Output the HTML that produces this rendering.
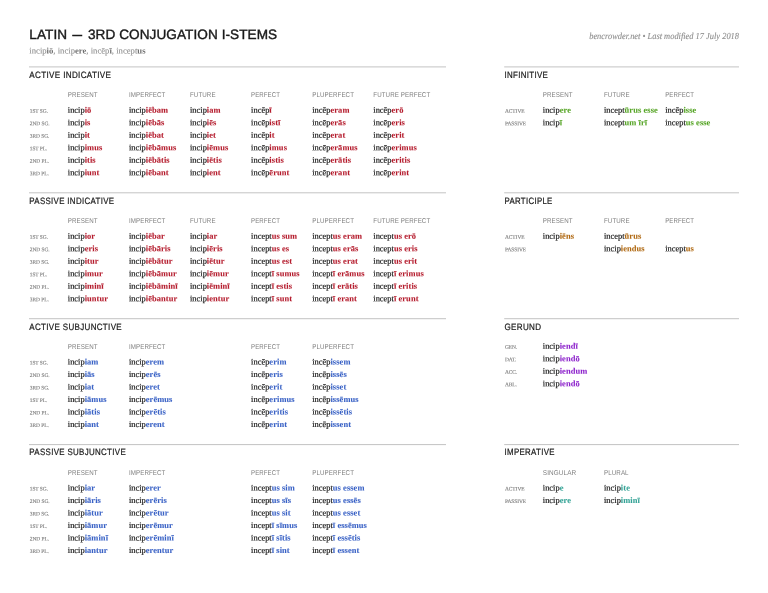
<!DOCTYPE html>
<html lang="la">
<head>
<meta charset="utf-8">
<title>Latin — 3rd Conjugation I-Stems</title>
<style>
html,body{margin:0;padding:0;background:#fff}
body{width:768px;height:593px;overflow:hidden}
svg{display:block;position:absolute;left:0;top:0}
text{text-rendering:geometricPrecision;white-space:pre}
.rule{fill:#c3c3c3}
.h1{font-family:"Liberation Sans",sans-serif;font-size:13.6px;letter-spacing:0.06px;text-transform:uppercase;fill:#1a1a1a;stroke:#1a1a1a;stroke-width:0.4px}
.dash{stroke-width:0.65px;letter-spacing:0}
.h2{font-family:"Liberation Sans",sans-serif;font-size:9.2px;letter-spacing:0.38px;text-transform:uppercase;fill:#1a1a1a;stroke:#1a1a1a;stroke-width:0.22px}
.ch{font-family:"Liberation Sans",sans-serif;font-size:7.0px;letter-spacing:0.1px;text-transform:uppercase;fill:#808080}
.lab{font-family:"Liberation Serif",serif;font-size:5.4px;letter-spacing:-0.02px;text-transform:uppercase;fill:#828282;stroke:#828282;stroke-width:0.15px}
.w{font-family:"Liberation Serif",serif;font-size:8.43px;fill:#141414;stroke:#141414;stroke-width:0.18px}
.e{font-weight:bold;letter-spacing:0.08px;stroke-width:0.09px}
.sub{font-family:"Liberation Serif",serif;font-size:8.66px;fill:#939393;stroke:#939393;stroke-width:0.12px}
.sub tspan{font-weight:bold;fill:#6e6e6e;stroke:none}
.meta{font-family:"Liberation Serif",serif;font-size:9.2px;font-style:italic;fill:#8c8c8c;stroke:#8c8c8c;stroke-width:0.1px}
.red{fill:#b51d2e;stroke:#b51d2e}
.blue{fill:#3b63c6;stroke:#3b63c6}
.green{fill:#57a527;stroke:#57a527}
.orange{fill:#b06a14;stroke:#b06a14}
.purple{fill:#8e25cc;stroke:#8e25cc}
.teal{fill:#35a396;stroke:#35a396}
</style>
</head>
<body>
<svg width="768" height="593" viewBox="0 0 768 593">
  <g id="header">
    <text class="h1" transform="translate(29.30 38.90) rotate(0.03)">Latin</text>
    <text class="h1 dash" transform="translate(77.20 38.90) rotate(0.03) scale(0.7 1.0)" text-anchor="middle">—</text>
    <text class="h1" transform="translate(88.00 38.90) rotate(0.03)">3rd Conjugation I-Stems</text>
    <text class="sub" transform="translate(29.30 53.50) rotate(0.03)">incip<tspan>iō</tspan>, incip<tspan>ere</tspan>, incēp<tspan>ī</tspan>, incept<tspan>us</tspan></text>
    <text class="meta" transform="translate(739.00 39.00) rotate(0.03) scale(0.914 1.0)" text-anchor="end">bencrowder.net • Last modified 17 July 2018</text>
  </g>
  <g class="section" id="active-indicative">
    <rect class="rule" x="29.00" y="66.40" width="417.00" height="1"/>
    <text class="h2" transform="translate(29.30 77.75) rotate(0.03) scale(0.881 1.0)">Active Indicative</text>
    <g class="colheads">
      <text class="ch" transform="translate(67.80 97.20) rotate(0.03) scale(0.885 1.0)">Present</text>
      <text class="ch" transform="translate(128.90 97.20) rotate(0.03) scale(0.885 1.0)">Imperfect</text>
      <text class="ch" transform="translate(190.00 97.20) rotate(0.03) scale(0.885 1.0)">Future</text>
      <text class="ch" transform="translate(251.10 97.20) rotate(0.03) scale(0.865 1.0)">Perfect</text>
      <text class="ch" transform="translate(312.20 97.20) rotate(0.03) scale(0.885 1.0)">Pluperfect</text>
      <text class="ch" transform="translate(373.30 97.20) rotate(0.03) scale(0.885 1.0)">Future Perfect</text>
    </g>
    <g class="row">
      <text class="lab" transform="translate(29.70 112.80) rotate(0.03)">1st sg.</text>
      <text class="w" transform="translate(67.80 112.80) rotate(0.03)">incip<tspan class="e red">iō</tspan></text>
      <text class="w" transform="translate(128.90 112.80) rotate(0.03)">incip<tspan class="e red">iēbam</tspan></text>
      <text class="w" transform="translate(190.00 112.80) rotate(0.03)">incip<tspan class="e red">iam</tspan></text>
      <text class="w" transform="translate(251.10 112.80) rotate(0.03)">incēp<tspan class="e red">ī</tspan></text>
      <text class="w" transform="translate(312.20 112.80) rotate(0.03)">incēp<tspan class="e red">eram</tspan></text>
      <text class="w" transform="translate(373.30 112.80) rotate(0.03)">incēp<tspan class="e red">erō</tspan></text>
    </g>
    <g class="row">
      <text class="lab" transform="translate(29.70 125.30) rotate(0.03)">2nd sg.</text>
      <text class="w" transform="translate(67.80 125.30) rotate(0.03)">incip<tspan class="e red">is</tspan></text>
      <text class="w" transform="translate(128.90 125.30) rotate(0.03)">incip<tspan class="e red">iēbās</tspan></text>
      <text class="w" transform="translate(190.00 125.30) rotate(0.03)">incip<tspan class="e red">iēs</tspan></text>
      <text class="w" transform="translate(251.10 125.30) rotate(0.03)">incēp<tspan class="e red">istī</tspan></text>
      <text class="w" transform="translate(312.20 125.30) rotate(0.03)">incēp<tspan class="e red">erās</tspan></text>
      <text class="w" transform="translate(373.30 125.30) rotate(0.03)">incēp<tspan class="e red">eris</tspan></text>
    </g>
    <g class="row">
      <text class="lab" transform="translate(29.70 137.80) rotate(0.03)">3rd sg.</text>
      <text class="w" transform="translate(67.80 137.80) rotate(0.03)">incip<tspan class="e red">it</tspan></text>
      <text class="w" transform="translate(128.90 137.80) rotate(0.03)">incip<tspan class="e red">iēbat</tspan></text>
      <text class="w" transform="translate(190.00 137.80) rotate(0.03)">incip<tspan class="e red">iet</tspan></text>
      <text class="w" transform="translate(251.10 137.80) rotate(0.03)">incēp<tspan class="e red">it</tspan></text>
      <text class="w" transform="translate(312.20 137.80) rotate(0.03)">incēp<tspan class="e red">erat</tspan></text>
      <text class="w" transform="translate(373.30 137.80) rotate(0.03)">incēp<tspan class="e red">erit</tspan></text>
    </g>
    <g class="row">
      <text class="lab" transform="translate(29.70 150.30) rotate(0.03)">1st pl.</text>
      <text class="w" transform="translate(67.80 150.30) rotate(0.03)">incip<tspan class="e red">imus</tspan></text>
      <text class="w" transform="translate(128.90 150.30) rotate(0.03)">incip<tspan class="e red">iēbāmus</tspan></text>
      <text class="w" transform="translate(190.00 150.30) rotate(0.03)">incip<tspan class="e red">iēmus</tspan></text>
      <text class="w" transform="translate(251.10 150.30) rotate(0.03)">incēp<tspan class="e red">imus</tspan></text>
      <text class="w" transform="translate(312.20 150.30) rotate(0.03)">incēp<tspan class="e red">erāmus</tspan></text>
      <text class="w" transform="translate(373.30 150.30) rotate(0.03)">incēp<tspan class="e red">erimus</tspan></text>
    </g>
    <g class="row">
      <text class="lab" transform="translate(29.70 162.80) rotate(0.03)">2nd pl.</text>
      <text class="w" transform="translate(67.80 162.80) rotate(0.03)">incip<tspan class="e red">itis</tspan></text>
      <text class="w" transform="translate(128.90 162.80) rotate(0.03)">incip<tspan class="e red">iēbātis</tspan></text>
      <text class="w" transform="translate(190.00 162.80) rotate(0.03)">incip<tspan class="e red">iētis</tspan></text>
      <text class="w" transform="translate(251.10 162.80) rotate(0.03)">incēp<tspan class="e red">istis</tspan></text>
      <text class="w" transform="translate(312.20 162.80) rotate(0.03)">incēp<tspan class="e red">erātis</tspan></text>
      <text class="w" transform="translate(373.30 162.80) rotate(0.03)">incēp<tspan class="e red">eritis</tspan></text>
    </g>
    <g class="row">
      <text class="lab" transform="translate(29.70 175.30) rotate(0.03)">3rd pl.</text>
      <text class="w" transform="translate(67.80 175.30) rotate(0.03)">incip<tspan class="e red">iunt</tspan></text>
      <text class="w" transform="translate(128.90 175.30) rotate(0.03)">incip<tspan class="e red">iēbant</tspan></text>
      <text class="w" transform="translate(190.00 175.30) rotate(0.03)">incip<tspan class="e red">ient</tspan></text>
      <text class="w" transform="translate(251.10 175.30) rotate(0.03)">incēp<tspan class="e red">ērunt</tspan></text>
      <text class="w" transform="translate(312.20 175.30) rotate(0.03)">incēp<tspan class="e red">erant</tspan></text>
      <text class="w" transform="translate(373.30 175.30) rotate(0.03)">incēp<tspan class="e red">erint</tspan></text>
    </g>
  </g>
  <g class="section" id="passive-indicative">
    <rect class="rule" x="29.00" y="192.30" width="417.00" height="1"/>
    <text class="h2" transform="translate(29.30 203.65) rotate(0.03) scale(0.86 1.0)">Passive Indicative</text>
    <g class="colheads">
      <text class="ch" transform="translate(67.80 223.10) rotate(0.03) scale(0.885 1.0)">Present</text>
      <text class="ch" transform="translate(128.90 223.10) rotate(0.03) scale(0.885 1.0)">Imperfect</text>
      <text class="ch" transform="translate(190.00 223.10) rotate(0.03) scale(0.885 1.0)">Future</text>
      <text class="ch" transform="translate(251.10 223.10) rotate(0.03) scale(0.865 1.0)">Perfect</text>
      <text class="ch" transform="translate(312.20 223.10) rotate(0.03) scale(0.885 1.0)">Pluperfect</text>
      <text class="ch" transform="translate(373.30 223.10) rotate(0.03) scale(0.885 1.0)">Future Perfect</text>
    </g>
    <g class="row">
      <text class="lab" transform="translate(29.70 238.70) rotate(0.03)">1st sg.</text>
      <text class="w" transform="translate(67.80 238.70) rotate(0.03)">incip<tspan class="e red">ior</tspan></text>
      <text class="w" transform="translate(128.90 238.70) rotate(0.03)">incip<tspan class="e red">iēbar</tspan></text>
      <text class="w" transform="translate(190.00 238.70) rotate(0.03)">incip<tspan class="e red">iar</tspan></text>
      <text class="w" transform="translate(251.10 238.70) rotate(0.03)">incept<tspan class="e red">us sum</tspan></text>
      <text class="w" transform="translate(312.20 238.70) rotate(0.03)">incept<tspan class="e red">us eram</tspan></text>
      <text class="w" transform="translate(373.30 238.70) rotate(0.03)">incept<tspan class="e red">us erō</tspan></text>
    </g>
    <g class="row">
      <text class="lab" transform="translate(29.70 251.20) rotate(0.03)">2nd sg.</text>
      <text class="w" transform="translate(67.80 251.20) rotate(0.03)">incip<tspan class="e red">eris</tspan></text>
      <text class="w" transform="translate(128.90 251.20) rotate(0.03)">incip<tspan class="e red">iēbāris</tspan></text>
      <text class="w" transform="translate(190.00 251.20) rotate(0.03)">incip<tspan class="e red">iēris</tspan></text>
      <text class="w" transform="translate(251.10 251.20) rotate(0.03)">incept<tspan class="e red">us es</tspan></text>
      <text class="w" transform="translate(312.20 251.20) rotate(0.03)">incept<tspan class="e red">us erās</tspan></text>
      <text class="w" transform="translate(373.30 251.20) rotate(0.03)">incept<tspan class="e red">us eris</tspan></text>
    </g>
    <g class="row">
      <text class="lab" transform="translate(29.70 263.70) rotate(0.03)">3rd sg.</text>
      <text class="w" transform="translate(67.80 263.70) rotate(0.03)">incip<tspan class="e red">itur</tspan></text>
      <text class="w" transform="translate(128.90 263.70) rotate(0.03)">incip<tspan class="e red">iēbātur</tspan></text>
      <text class="w" transform="translate(190.00 263.70) rotate(0.03)">incip<tspan class="e red">iētur</tspan></text>
      <text class="w" transform="translate(251.10 263.70) rotate(0.03)">incept<tspan class="e red">us est</tspan></text>
      <text class="w" transform="translate(312.20 263.70) rotate(0.03)">incept<tspan class="e red">us erat</tspan></text>
      <text class="w" transform="translate(373.30 263.70) rotate(0.03)">incept<tspan class="e red">us erit</tspan></text>
    </g>
    <g class="row">
      <text class="lab" transform="translate(29.70 276.20) rotate(0.03)">1st pl.</text>
      <text class="w" transform="translate(67.80 276.20) rotate(0.03)">incip<tspan class="e red">imur</tspan></text>
      <text class="w" transform="translate(128.90 276.20) rotate(0.03)">incip<tspan class="e red">iēbāmur</tspan></text>
      <text class="w" transform="translate(190.00 276.20) rotate(0.03)">incip<tspan class="e red">iēmur</tspan></text>
      <text class="w" transform="translate(251.10 276.20) rotate(0.03)">incept<tspan class="e red">ī sumus</tspan></text>
      <text class="w" transform="translate(312.20 276.20) rotate(0.03)">incept<tspan class="e red">ī erāmus</tspan></text>
      <text class="w" transform="translate(373.30 276.20) rotate(0.03)">incept<tspan class="e red">ī erimus</tspan></text>
    </g>
    <g class="row">
      <text class="lab" transform="translate(29.70 288.70) rotate(0.03)">2nd pl.</text>
      <text class="w" transform="translate(67.80 288.70) rotate(0.03)">incip<tspan class="e red">iminī</tspan></text>
      <text class="w" transform="translate(128.90 288.70) rotate(0.03)">incip<tspan class="e red">iēbāminī</tspan></text>
      <text class="w" transform="translate(190.00 288.70) rotate(0.03)">incip<tspan class="e red">iēminī</tspan></text>
      <text class="w" transform="translate(251.10 288.70) rotate(0.03)">incept<tspan class="e red">ī estis</tspan></text>
      <text class="w" transform="translate(312.20 288.70) rotate(0.03)">incept<tspan class="e red">ī erātis</tspan></text>
      <text class="w" transform="translate(373.30 288.70) rotate(0.03)">incept<tspan class="e red">ī eritis</tspan></text>
    </g>
    <g class="row">
      <text class="lab" transform="translate(29.70 301.20) rotate(0.03)">3rd pl.</text>
      <text class="w" transform="translate(67.80 301.20) rotate(0.03)">incip<tspan class="e red">iuntur</tspan></text>
      <text class="w" transform="translate(128.90 301.20) rotate(0.03)">incip<tspan class="e red">iēbantur</tspan></text>
      <text class="w" transform="translate(190.00 301.20) rotate(0.03)">incip<tspan class="e red">ientur</tspan></text>
      <text class="w" transform="translate(251.10 301.20) rotate(0.03)">incept<tspan class="e red">ī sunt</tspan></text>
      <text class="w" transform="translate(312.20 301.20) rotate(0.03)">incept<tspan class="e red">ī erant</tspan></text>
      <text class="w" transform="translate(373.30 301.20) rotate(0.03)">incept<tspan class="e red">ī erunt</tspan></text>
    </g>
  </g>
  <g class="section" id="active-subjunctive">
    <rect class="rule" x="29.00" y="318.20" width="417.00" height="1"/>
    <text class="h2" transform="translate(29.30 329.55) rotate(0.03) scale(0.871 1.0)">Active Subjunctive</text>
    <g class="colheads">
      <text class="ch" transform="translate(67.80 349.00) rotate(0.03) scale(0.885 1.0)">Present</text>
      <text class="ch" transform="translate(128.90 349.00) rotate(0.03) scale(0.885 1.0)">Imperfect</text>
      <text class="ch" transform="translate(251.10 349.00) rotate(0.03) scale(0.865 1.0)">Perfect</text>
      <text class="ch" transform="translate(312.20 349.00) rotate(0.03) scale(0.885 1.0)">Pluperfect</text>
    </g>
    <g class="row">
      <text class="lab" transform="translate(29.70 364.60) rotate(0.03)">1st sg.</text>
      <text class="w" transform="translate(67.80 364.60) rotate(0.03)">incip<tspan class="e blue">iam</tspan></text>
      <text class="w" transform="translate(128.90 364.60) rotate(0.03)">incip<tspan class="e blue">erem</tspan></text>
      <text class="w" transform="translate(251.10 364.60) rotate(0.03)">incēp<tspan class="e blue">erim</tspan></text>
      <text class="w" transform="translate(312.20 364.60) rotate(0.03)">incēp<tspan class="e blue">issem</tspan></text>
    </g>
    <g class="row">
      <text class="lab" transform="translate(29.70 377.10) rotate(0.03)">2nd sg.</text>
      <text class="w" transform="translate(67.80 377.10) rotate(0.03)">incip<tspan class="e blue">iās</tspan></text>
      <text class="w" transform="translate(128.90 377.10) rotate(0.03)">incip<tspan class="e blue">erēs</tspan></text>
      <text class="w" transform="translate(251.10 377.10) rotate(0.03)">incēp<tspan class="e blue">eris</tspan></text>
      <text class="w" transform="translate(312.20 377.10) rotate(0.03)">incēp<tspan class="e blue">issēs</tspan></text>
    </g>
    <g class="row">
      <text class="lab" transform="translate(29.70 389.60) rotate(0.03)">3rd sg.</text>
      <text class="w" transform="translate(67.80 389.60) rotate(0.03)">incip<tspan class="e blue">iat</tspan></text>
      <text class="w" transform="translate(128.90 389.60) rotate(0.03)">incip<tspan class="e blue">eret</tspan></text>
      <text class="w" transform="translate(251.10 389.60) rotate(0.03)">incēp<tspan class="e blue">erit</tspan></text>
      <text class="w" transform="translate(312.20 389.60) rotate(0.03)">incēp<tspan class="e blue">isset</tspan></text>
    </g>
    <g class="row">
      <text class="lab" transform="translate(29.70 402.10) rotate(0.03)">1st pl.</text>
      <text class="w" transform="translate(67.80 402.10) rotate(0.03)">incip<tspan class="e blue">iāmus</tspan></text>
      <text class="w" transform="translate(128.90 402.10) rotate(0.03)">incip<tspan class="e blue">erēmus</tspan></text>
      <text class="w" transform="translate(251.10 402.10) rotate(0.03)">incēp<tspan class="e blue">erimus</tspan></text>
      <text class="w" transform="translate(312.20 402.10) rotate(0.03)">incēp<tspan class="e blue">issēmus</tspan></text>
    </g>
    <g class="row">
      <text class="lab" transform="translate(29.70 414.60) rotate(0.03)">2nd pl.</text>
      <text class="w" transform="translate(67.80 414.60) rotate(0.03)">incip<tspan class="e blue">iātis</tspan></text>
      <text class="w" transform="translate(128.90 414.60) rotate(0.03)">incip<tspan class="e blue">erētis</tspan></text>
      <text class="w" transform="translate(251.10 414.60) rotate(0.03)">incēp<tspan class="e blue">eritis</tspan></text>
      <text class="w" transform="translate(312.20 414.60) rotate(0.03)">incēp<tspan class="e blue">issētis</tspan></text>
    </g>
    <g class="row">
      <text class="lab" transform="translate(29.70 427.10) rotate(0.03)">3rd pl.</text>
      <text class="w" transform="translate(67.80 427.10) rotate(0.03)">incip<tspan class="e blue">iant</tspan></text>
      <text class="w" transform="translate(128.90 427.10) rotate(0.03)">incip<tspan class="e blue">erent</tspan></text>
      <text class="w" transform="translate(251.10 427.10) rotate(0.03)">incēp<tspan class="e blue">erint</tspan></text>
      <text class="w" transform="translate(312.20 427.10) rotate(0.03)">incēp<tspan class="e blue">issent</tspan></text>
    </g>
  </g>
  <g class="section" id="passive-subjunctive">
    <rect class="rule" x="29.00" y="444.10" width="417.00" height="1"/>
    <text class="h2" transform="translate(29.30 455.45) rotate(0.03) scale(0.862 1.0)">Passive Subjunctive</text>
    <g class="colheads">
      <text class="ch" transform="translate(67.80 474.90) rotate(0.03) scale(0.885 1.0)">Present</text>
      <text class="ch" transform="translate(128.90 474.90) rotate(0.03) scale(0.885 1.0)">Imperfect</text>
      <text class="ch" transform="translate(251.10 474.90) rotate(0.03) scale(0.865 1.0)">Perfect</text>
      <text class="ch" transform="translate(312.20 474.90) rotate(0.03) scale(0.885 1.0)">Pluperfect</text>
    </g>
    <g class="row">
      <text class="lab" transform="translate(29.70 490.50) rotate(0.03)">1st sg.</text>
      <text class="w" transform="translate(67.80 490.50) rotate(0.03)">incip<tspan class="e blue">iar</tspan></text>
      <text class="w" transform="translate(128.90 490.50) rotate(0.03)">incip<tspan class="e blue">erer</tspan></text>
      <text class="w" transform="translate(251.10 490.50) rotate(0.03)">incept<tspan class="e blue">us sim</tspan></text>
      <text class="w" transform="translate(312.20 490.50) rotate(0.03)">incept<tspan class="e blue">us essem</tspan></text>
    </g>
    <g class="row">
      <text class="lab" transform="translate(29.70 503.00) rotate(0.03)">2nd sg.</text>
      <text class="w" transform="translate(67.80 503.00) rotate(0.03)">incip<tspan class="e blue">iāris</tspan></text>
      <text class="w" transform="translate(128.90 503.00) rotate(0.03)">incip<tspan class="e blue">erēris</tspan></text>
      <text class="w" transform="translate(251.10 503.00) rotate(0.03)">incept<tspan class="e blue">us sīs</tspan></text>
      <text class="w" transform="translate(312.20 503.00) rotate(0.03)">incept<tspan class="e blue">us essēs</tspan></text>
    </g>
    <g class="row">
      <text class="lab" transform="translate(29.70 515.50) rotate(0.03)">3rd sg.</text>
      <text class="w" transform="translate(67.80 515.50) rotate(0.03)">incip<tspan class="e blue">iātur</tspan></text>
      <text class="w" transform="translate(128.90 515.50) rotate(0.03)">incip<tspan class="e blue">erētur</tspan></text>
      <text class="w" transform="translate(251.10 515.50) rotate(0.03)">incept<tspan class="e blue">us sit</tspan></text>
      <text class="w" transform="translate(312.20 515.50) rotate(0.03)">incept<tspan class="e blue">us esset</tspan></text>
    </g>
    <g class="row">
      <text class="lab" transform="translate(29.70 528.00) rotate(0.03)">1st pl.</text>
      <text class="w" transform="translate(67.80 528.00) rotate(0.03)">incip<tspan class="e blue">iāmur</tspan></text>
      <text class="w" transform="translate(128.90 528.00) rotate(0.03)">incip<tspan class="e blue">erēmur</tspan></text>
      <text class="w" transform="translate(251.10 528.00) rotate(0.03)">incept<tspan class="e blue">ī sīmus</tspan></text>
      <text class="w" transform="translate(312.20 528.00) rotate(0.03)">incept<tspan class="e blue">ī essēmus</tspan></text>
    </g>
    <g class="row">
      <text class="lab" transform="translate(29.70 540.50) rotate(0.03)">2nd pl.</text>
      <text class="w" transform="translate(67.80 540.50) rotate(0.03)">incip<tspan class="e blue">iāminī</tspan></text>
      <text class="w" transform="translate(128.90 540.50) rotate(0.03)">incip<tspan class="e blue">erēminī</tspan></text>
      <text class="w" transform="translate(251.10 540.50) rotate(0.03)">incept<tspan class="e blue">ī sītis</tspan></text>
      <text class="w" transform="translate(312.20 540.50) rotate(0.03)">incept<tspan class="e blue">ī essētis</tspan></text>
    </g>
    <g class="row">
      <text class="lab" transform="translate(29.70 553.00) rotate(0.03)">3rd pl.</text>
      <text class="w" transform="translate(67.80 553.00) rotate(0.03)">incip<tspan class="e blue">iantur</tspan></text>
      <text class="w" transform="translate(128.90 553.00) rotate(0.03)">incip<tspan class="e blue">erentur</tspan></text>
      <text class="w" transform="translate(251.10 553.00) rotate(0.03)">incept<tspan class="e blue">ī sint</tspan></text>
      <text class="w" transform="translate(312.20 553.00) rotate(0.03)">incept<tspan class="e blue">ī essent</tspan></text>
    </g>
  </g>
  <g class="section" id="infinitive">
    <rect class="rule" x="504.20" y="66.40" width="234.80" height="1"/>
    <text class="h2" transform="translate(504.50 77.75) rotate(0.03) scale(0.861 1.0)">Infinitive</text>
    <g class="colheads">
      <text class="ch" transform="translate(542.80 97.20) rotate(0.03) scale(0.885 1.0)">Present</text>
      <text class="ch" transform="translate(604.00 97.20) rotate(0.03) scale(0.885 1.0)">Future</text>
      <text class="ch" transform="translate(665.20 97.20) rotate(0.03) scale(0.865 1.0)">Perfect</text>
    </g>
    <g class="row">
      <text class="lab" transform="translate(504.90 112.80) rotate(0.03)">active</text>
      <text class="w" transform="translate(542.80 112.80) rotate(0.03)">incip<tspan class="e green">ere</tspan></text>
      <text class="w" transform="translate(604.00 112.80) rotate(0.03)">incept<tspan class="e green">ūrus esse</tspan></text>
      <text class="w" transform="translate(665.20 112.80) rotate(0.03)">incēp<tspan class="e green">isse</tspan></text>
    </g>
    <g class="row">
      <text class="lab" transform="translate(504.90 125.30) rotate(0.03)">passive</text>
      <text class="w" transform="translate(542.80 125.30) rotate(0.03)">incip<tspan class="e green">ī</tspan></text>
      <text class="w" transform="translate(604.00 125.30) rotate(0.03)">incept<tspan class="e green">um īrī</tspan></text>
      <text class="w" transform="translate(665.20 125.30) rotate(0.03)">incept<tspan class="e green">us esse</tspan></text>
    </g>
  </g>
  <g class="section" id="participle">
    <rect class="rule" x="504.20" y="192.30" width="234.80" height="1"/>
    <text class="h2" transform="translate(504.50 203.65) rotate(0.03) scale(0.851 1.0)">Participle</text>
    <g class="colheads">
      <text class="ch" transform="translate(542.80 223.10) rotate(0.03) scale(0.885 1.0)">Present</text>
      <text class="ch" transform="translate(604.00 223.10) rotate(0.03) scale(0.885 1.0)">Future</text>
      <text class="ch" transform="translate(665.20 223.10) rotate(0.03) scale(0.865 1.0)">Perfect</text>
    </g>
    <g class="row">
      <text class="lab" transform="translate(504.90 238.70) rotate(0.03)">active</text>
      <text class="w" transform="translate(542.80 238.70) rotate(0.03)">incip<tspan class="e orange">iēns</tspan></text>
      <text class="w" transform="translate(604.00 238.70) rotate(0.03)">incept<tspan class="e orange">ūrus</tspan></text>
    </g>
    <g class="row">
      <text class="lab" transform="translate(504.90 251.20) rotate(0.03)">passive</text>
      <text class="w" transform="translate(604.00 251.20) rotate(0.03)">incip<tspan class="e orange">iendus</tspan></text>
      <text class="w" transform="translate(665.20 251.20) rotate(0.03)">incept<tspan class="e orange">us</tspan></text>
    </g>
  </g>
  <g class="section" id="gerund">
    <rect class="rule" x="504.20" y="318.20" width="234.80" height="1"/>
    <text class="h2" transform="translate(504.50 329.55) rotate(0.03) scale(0.877 1.0)">Gerund</text>
    <g class="row">
      <text class="lab" transform="translate(504.90 348.80) rotate(0.03)">gen.</text>
      <text class="w" transform="translate(542.80 348.80) rotate(0.03)">incip<tspan class="e purple">iendī</tspan></text>
    </g>
    <g class="row">
      <text class="lab" transform="translate(504.90 361.30) rotate(0.03)">dat.</text>
      <text class="w" transform="translate(542.80 361.30) rotate(0.03)">incip<tspan class="e purple">iendō</tspan></text>
    </g>
    <g class="row">
      <text class="lab" transform="translate(504.90 373.80) rotate(0.03)">acc.</text>
      <text class="w" transform="translate(542.80 373.80) rotate(0.03)">incip<tspan class="e purple">iendum</tspan></text>
    </g>
    <g class="row">
      <text class="lab" transform="translate(504.90 386.30) rotate(0.03)">abl.</text>
      <text class="w" transform="translate(542.80 386.30) rotate(0.03)">incip<tspan class="e purple">iendō</tspan></text>
    </g>
  </g>
  <g class="section" id="imperative">
    <rect class="rule" x="504.20" y="444.10" width="234.80" height="1"/>
    <text class="h2" transform="translate(504.50 455.45) rotate(0.03) scale(0.856 1.0)">Imperative</text>
    <g class="colheads">
      <text class="ch" transform="translate(542.80 474.90) rotate(0.03) scale(0.915 1.0)">Singular</text>
      <text class="ch" transform="translate(604.00 474.90) rotate(0.03) scale(0.885 1.0)">Plural</text>
    </g>
    <g class="row">
      <text class="lab" transform="translate(504.90 490.50) rotate(0.03)">active</text>
      <text class="w" transform="translate(542.80 490.50) rotate(0.03)">incip<tspan class="e teal">e</tspan></text>
      <text class="w" transform="translate(604.00 490.50) rotate(0.03)">incip<tspan class="e teal">ite</tspan></text>
    </g>
    <g class="row">
      <text class="lab" transform="translate(504.90 503.00) rotate(0.03)">passive</text>
      <text class="w" transform="translate(542.80 503.00) rotate(0.03)">incip<tspan class="e teal">ere</tspan></text>
      <text class="w" transform="translate(604.00 503.00) rotate(0.03)">incip<tspan class="e teal">iminī</tspan></text>
    </g>
  </g>
</svg>
</body>
</html>
